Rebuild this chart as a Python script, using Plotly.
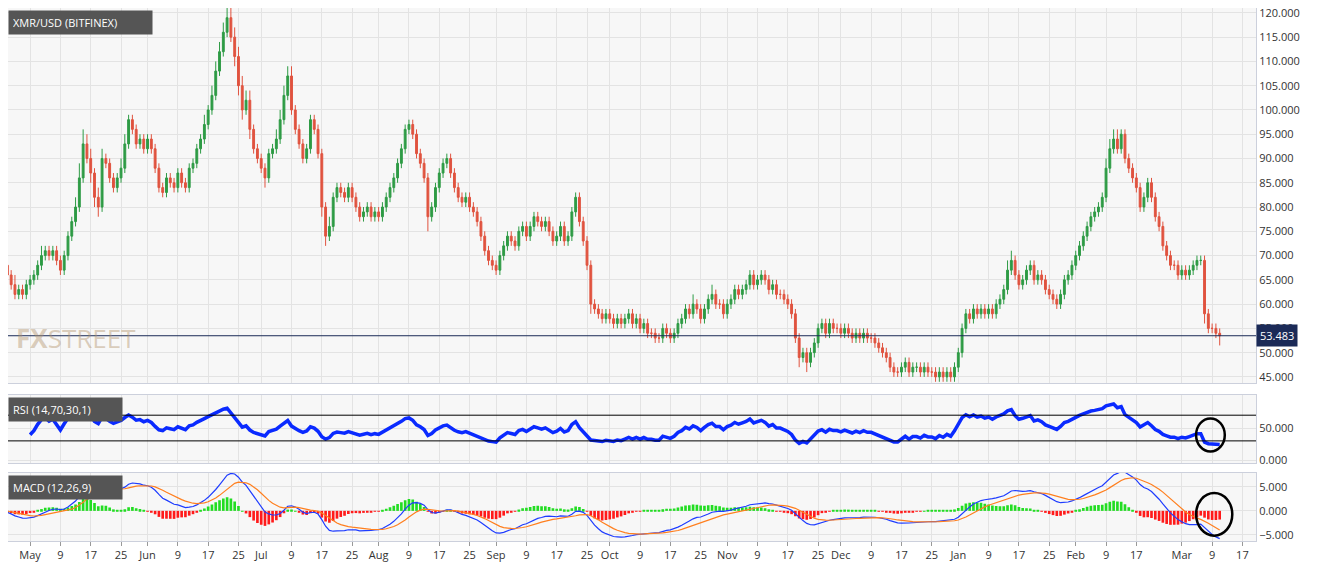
import pandas as pd
import numpy as np
import plotly.graph_objects as go

# daily closes, 2018-04-23 .. 2019-03-11
closes = [
    69, 68, 66, 64, 62, 63, 62, 64,
    # May
    65, 66, 68, 70, 71, 70, 71, 69, 67, 70, 74, 77, 80, 86, 93, 90, 87, 82, 80, 90, 89, 86, 84, 86, 88, 93, 98, 96, 93, 94, 92,
    # Jun
    94, 92, 88, 84, 83, 86, 85, 84, 87, 85, 84, 88, 89, 92, 94, 97, 100, 103, 108, 112, 116, 119, 115, 111, 105, 100, 102, 96, 92, 90,
    # Jul
    88, 86, 91, 92, 94, 98, 103, 107, 100, 96, 93, 90, 92, 98, 96, 91, 80, 74, 76, 82, 84, 83, 82, 84, 82, 80, 78, 79, 80, 78, 79,
    # Aug
    78, 80, 82, 84, 86, 89, 92, 96, 97, 95, 91, 89, 86, 78, 80, 84, 87, 89, 90, 87, 84, 82, 81, 82, 80, 79, 77, 74, 71, 69, 68,
    # Sep
    67, 70, 72, 74, 73, 72, 75, 76, 74, 76, 78, 77, 76, 77, 75, 73, 74, 76, 73, 74, 79, 82, 77, 73, 68, 60, 59, 58, 57, 58,
    # Oct
    57, 56, 57, 56, 57, 58, 56, 57, 55, 56, 54, 54, 53, 53, 55, 54, 53, 54, 56, 57, 59, 58, 60, 59, 57, 59, 61, 62, 60, 60, 58,
    # Nov
    60, 61, 63, 62, 63, 64, 66, 64, 65, 66, 65, 63, 64, 62, 62, 61, 60, 58, 53, 49, 50, 48, 50, 52, 55, 56, 54, 56, 55, 55,
    # Dec
    54, 55, 54, 53, 54, 53, 54, 53, 53, 52, 51, 50, 49, 47, 46, 46, 47, 48, 46, 47, 47, 46, 47, 46, 46, 45, 46, 45, 46, 45, 47,
    # Jan
    50, 55, 58, 57, 59, 58, 59, 58, 59, 58, 60, 61, 63, 67, 69, 66, 64, 65, 67, 68, 65, 66, 65, 63, 62, 61, 60, 62, 65, 66, 68,
    # Feb
    70, 72, 74, 76, 78, 79, 80, 82, 88, 92, 94, 92, 95, 90, 88, 86, 84, 80, 82, 85, 82, 78, 76, 72, 70, 68, 68, 66,
    # Mar
    67, 66, 67, 68, 69, 69, 58, 55, 55, 54, 53.483,
]
upper_wick = [
    1, 1, 1, 1, 2, 1, 1, 1,
    1, 1, 1, 2, 1, 1, 1, 1, 1, 1, 1, 1, 2, 3, 3, 2, 2, 1, 2, 2, 1, 1, 1, 1, 2, 2, 1, 1, 1, 1, 1,
    1, 1, 1, 1, 1, 1, 1, 1, 1, 1, 1, 1, 1, 1, 1, 2, 1, 2, 2, 2, 2, 2, 2, 2, 2, 2, 2, 2, 1, 1,
    1, 1, 1, 1, 2, 2, 2, 2, 2, 1, 1, 1, 1, 1, 1, 1, 1, 1, 2, 1, 1, 1, 1, 1, 1, 1, 1, 1, 1, 1, 1,
    1, 1, 1, 1, 1, 1, 1, 1, 1, 1, 1, 1, 1, 1, 1, 1, 1, 1, 1, 1, 1, 1, 1, 1, 1, 1, 1, 1, 1, 1, 1,
    1, 1, 1, 1, 1, 1, 1, 1, 1, 1, 1, 1, 1, 1, 1, 1, 1, 1, 1, 1, 1, 1, 1, 1, 1, 1, 1, 1, 1, 1,
    1, 1, 1, 1, 1, 1, 1, 1, 1, 1, 1, 1, 1, 1, 1, 1, 1, 1, 1, 1, 1, 1, 2, 1, 1, 1, 1, 2, 1, 1, 1,
    1, 1, 1, 1, 1, 1, 1, 1, 1, 1, 1, 1, 1, 1, 1, 1, 1, 1, 1, 1, 1, 1, 1, 1, 1, 1, 1, 1, 1, 1,
    1, 1, 1, 1, 1, 1, 1, 1, 1, 1, 1, 1, 1, 1, 1, 1, 1, 1, 1, 1, 1, 1, 1, 1, 1, 1, 1, 1, 1, 1, 1,
    1, 1, 1, 1, 1, 1, 1, 1, 1, 1, 1, 1, 1, 2, 2, 1, 1, 1, 1, 1, 1, 1, 1, 1, 1, 1, 1, 1, 1, 1, 1,
    1, 1, 1, 1, 1, 1, 1, 1, 2, 2, 2, 2, 1, 1, 1, 1, 1, 1, 1, 1, 1, 1, 1, 1, 1, 1, 1, 1,
    1, 1, 1, 1, 1, 1, 1, 1, 1, 1, 1,
]
lower_wick = [
    1, 1, 1, 1, 1, 1, 1, 1,
    1, 1, 1, 1, 1, 1, 1, 1, 1, 1, 1, 1, 1, 1, 1, 1, 2, 2, 2, 1, 1, 1, 1, 1, 1, 1, 1, 1, 1, 1, 1,
    1, 1, 1, 1, 1, 1, 1, 1, 1, 1, 1, 1, 1, 1, 1, 1, 1, 1, 1, 1, 1, 1, 1, 2, 2, 2, 1, 2, 1, 1,
    1, 2, 1, 1, 1, 1, 1, 1, 1, 1, 1, 1, 1, 1, 1, 1, 2, 2, 1, 1, 1, 1, 1, 1, 1, 1, 1, 1, 1, 1, 1,
    1, 1, 1, 1, 1, 1, 1, 1, 1, 1, 1, 1, 1, 3, 1, 1, 1, 1, 1, 1, 1, 1, 1, 1, 1, 1, 1, 1, 1, 1, 1,
    1, 1, 1, 1, 1, 1, 1, 1, 1, 1, 1, 1, 1, 1, 1, 1, 1, 1, 1, 1, 1, 1, 1, 1, 1, 2, 1, 1, 1, 1,
    1, 1, 1, 1, 1, 1, 1, 1, 1, 1, 1, 1, 1, 1, 1, 1, 1, 1, 1, 1, 1, 1, 1, 1, 1, 1, 1, 1, 1, 1, 1,
    1, 1, 1, 1, 1, 1, 1, 1, 1, 1, 1, 1, 1, 1, 1, 1, 1, 1, 1, 2, 1, 2, 1, 1, 1, 1, 1, 1, 1, 1,
    1, 1, 1, 1, 1, 1, 1, 1, 1, 1, 1, 1, 1, 1, 1, 1, 1, 1, 1, 1, 1, 1, 1, 1, 1, 1, 1, 1, 1, 1, 1,
    1, 1, 1, 1, 1, 1, 1, 1, 1, 1, 1, 1, 1, 1, 1, 1, 1, 1, 1, 1, 1, 1, 1, 1, 1, 1, 1, 1, 1, 1, 1,
    1, 1, 1, 1, 1, 1, 1, 1, 1, 1, 1, 1, 1, 1, 1, 1, 1, 1, 1, 1, 1, 1, 1, 1, 1, 1, 1, 1,
    1, 1, 1, 1, 1, 1, 2, 1, 1, 1, 2,
]
first_open = 70
last_price = 53.483
month_labels = ['May', 'Jun', 'Jul', 'Aug', 'Sep', 'Oct', 'Nov', 'Dec', 'Jan', 'Feb', 'Mar']

dates = pd.date_range('2018-04-23', periods=len(closes), freq='D')
close = pd.Series(closes, index=dates, dtype=float)
opens = close.shift(1).fillna(first_open)
highs = np.maximum(opens, close) + np.array(upper_wick)
lows = np.minimum(opens, close) - np.array(lower_wick)

# RSI 14 (Wilder)
delta = close.diff()
gain = delta.clip(lower=0).ewm(alpha=1/14, adjust=True).mean()
loss = (-delta.clip(upper=0)).ewm(alpha=1/14, adjust=True).mean()
rsi = (100 - 100 / (1 + gain / loss)).iloc[8:]

# MACD 12,26,9
macd = close.ewm(span=12, adjust=False).mean() - close.ewm(span=26, adjust=False).mean()
signal = macd.ewm(span=9, adjust=False).mean()
hist = macd - signal

# ticks: 1, 9, 17, 25 of each month
tickvals, ticktext = [], []
for i, m in enumerate(pd.date_range('2018-05-01', '2019-03-01', freq='MS')):
    days = (1, 9, 17) if m.month == 2 else (1, 9, 17, 25)
    for d in days:
        tickvals.append(m + pd.Timedelta(days=d - 1))
        ticktext.append(month_labels[i] if d == 1 else str(d))
tickvals += [pd.Timestamp('2019-03-09'), pd.Timestamp('2019-03-17')]
ticktext += ['9', '17']

fig = go.Figure()
fig.add_trace(go.Candlestick(
    x=dates, open=opens, high=highs, low=lows, close=close,
    increasing=dict(line=dict(color='#2e9b45', width=1), fillcolor='#2e9b45'),
    decreasing=dict(line=dict(color='#e0533f', width=1), fillcolor='#e0533f'),
    whiskerwidth=0, xaxis='x', yaxis='y', showlegend=False, hoverinfo='skip'))
fig.add_trace(go.Scatter(x=rsi.index, y=rsi.values, mode='lines', line=dict(color='#0a2aff', width=3.5),
                         xaxis='x2', yaxis='y2', showlegend=False))
fig.add_trace(go.Bar(x=dates, y=hist, marker_color=np.where(hist >= 0, '#22dd22', '#ff1a1a'),
                     marker_line_width=0, xaxis='x3', yaxis='y3', showlegend=False))
fig.add_trace(go.Scatter(x=dates, y=macd, mode='lines', line=dict(color='#1e3cff', width=1.2),
                         xaxis='x3', yaxis='y3', showlegend=False))
fig.add_trace(go.Scatter(x=dates, y=signal, mode='lines', line=dict(color='#ff7f1e', width=1.2),
                         xaxis='x3', yaxis='y3', showlegend=False))

xr = ['2018-04-25 04:00', '2019-03-20 14:00']
xcommon = dict(range=xr, tickvals=tickvals, ticktext=ticktext, showgrid=True, gridcolor='#e3e3e3',
               showline=True, linecolor='#ccd0dc', mirror=True, zeroline=False, tickangle=0)
ycommon = dict(side='right', showgrid=True, gridcolor='#e3e3e3', tickformat='.3f', showline=True,
               linecolor='#ccd0dc', mirror=True, zeroline=False, tickfont=dict(size=11, color='#333'),
               automargin=False, ticklabeloverflow='allow')

fig.update_layout(
    width=1323, height=558, margin=dict(l=0, r=75, t=0, b=25, autoexpand=False),
    paper_bgcolor='white', plot_bgcolor='#f7f7f7', bargap=0.3,
    font=dict(family='Open Sans, Arial', size=11, color='#333'),
    xaxis=dict(xcommon, domain=[0, 1], anchor='y', showticklabels=False, rangeslider=dict(visible=False)),
    xaxis2=dict(xcommon, domain=[0, 1], anchor='y2', showticklabels=False, matches='x'),
    xaxis3=dict(xcommon, domain=[0, 1], anchor='y3', matches='x', ticks='outside', ticklen=4,
                tickcolor='#999', tickfont=dict(size=11, color='#333'), automargin=False),
    yaxis=dict(ycommon, domain=[0.296, 1], range=[43.7, 121.0], dtick=5),
    yaxis2=dict(ycommon, domain=[0.146, 0.274], range=[-4.7, 101.5], tickvals=[0, 50]),
    yaxis3=dict(ycommon, domain=[0, 0.128], range=[-6.25, 7.9], tickvals=[-5, 0, 5]),
    shapes=[
        dict(type='line', xref='x', yref='y', x0=xr[0], x1=xr[1], y0=last_price, y1=last_price,
             line=dict(color='#1b2a57', width=1)),
        dict(type='line', xref='x2', yref='y2', x0=xr[0], x1=xr[1], y0=70, y1=70, line=dict(color='black', width=1)),
        dict(type='line', xref='x2', yref='y2', x0=xr[0], x1=xr[1], y0=30, y1=30, line=dict(color='black', width=1)),
        dict(type='circle', xref='paper', yref='paper', x0=0.952, x1=0.975, y0=0.168, y1=0.23,
             line=dict(color='black', width=2.5)),
        dict(type='circle', xref='paper', yref='paper', x0=0.952, x1=0.981, y0=0.01, y1=0.09,
             line=dict(color='black', width=2.5)),
    ],
    annotations=[
        dict(text='XMR/USD (BITFINEX)', xref='paper', yref='paper', x=0.0, y=0.997, xanchor='left',
             yanchor='top', showarrow=False, bgcolor='#555', font=dict(color='white', size=11),
             borderpad=4, width=135, align='left'),
        dict(text='RSI (14,70,30,1)', xref='paper', yref='paper', x=0.0, y=0.27, xanchor='left',
             yanchor='top', showarrow=False, bgcolor='#555', font=dict(color='white', size=11),
             borderpad=4, width=105, align='left'),
        dict(text='MACD (12,26,9)', xref='paper', yref='paper', x=0.0, y=0.124, xanchor='left',
             yanchor='top', showarrow=False, bgcolor='#555', font=dict(color='white', size=11),
             borderpad=4, width=105, align='left'),
        dict(text='<b>FX</b>STREET', xref='paper', yref='paper', x=0.005, y=0.38, xanchor='left',
             showarrow=False, font=dict(size=26, color='rgba(180,150,110,0.45)', family='Open Sans')),
        dict(text=f'{last_price:.3f}', xref='paper', yref='y', x=1.0, y=last_price, xanchor='left',
             showarrow=False, bgcolor='#1b2a57', font=dict(color='white', size=11), borderpad=3),
    ],
)
fig.write_html('out.html')
